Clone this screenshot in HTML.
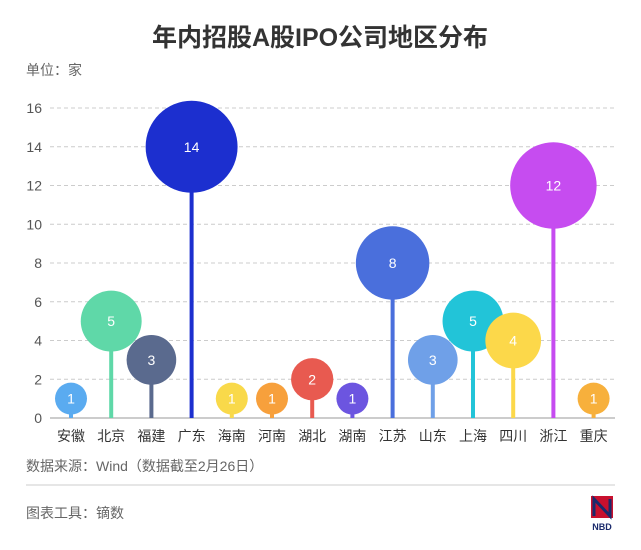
<!DOCTYPE html>
<html><head><meta charset="utf-8"><style>
body{margin:0;background:#fff;width:641px;height:545px;overflow:hidden;font-family:"Liberation Sans","Noto Sans CJK SC",sans-serif;}
</style></head><body>
<svg id="chart" width="641" height="545" xmlns="http://www.w3.org/2000/svg">
<text x="320" y="46" text-anchor="middle" font-size="25" font-weight="bold" fill="#333">年内招股A股IPO公司地区分布</text>
<text x="26" y="75" font-size="14" fill="#666">单位：家</text>
<g id="grid"></g><g id="marks"></g><g id="xlab"></g>
<text x="26" y="471" font-size="14" fill="#666">数据来源：Wind（数据截至2月26日）</text>
<line x1="26" y1="485" x2="615" y2="485" stroke="#ccc" stroke-width="1"/>
<text x="26" y="518" font-size="14" fill="#666">图表工具：镝数</text>
<g>
<rect x="591" y="496" width="22" height="22" fill="#c8102e"/>
<path d="M594 516 L594 499 L610 516 L610 499" stroke="#1a2a6c" stroke-width="3" fill="none"/>
<text x="602" y="530" text-anchor="middle" font-size="9" font-weight="bold" fill="#1a2a6c">NBD</text>
</g>
</svg>
<script>
const categories=["安徽","北京","福建","广东","海南","河南","湖北","湖南","江苏","山东","上海","四川","浙江","重庆"];
const values=[1,5,3,14,1,1,2,1,8,3,5,4,12,1];
const colors=["#5aabf0","#5fd8a8","#5a6a8e","#1c2fcf","#f9d94a","#f7a03c","#e85a50","#6c55e0","#4a6fdc","#6fa0e8","#22c4d8","#fcd84a","#c64cf0","#f7b03c"];
const yTicks=[0,2,4,6,8,10,12,14,16];
const NS="http://www.w3.org/2000/svg";
const y0=418,y1=108,x0=71,step=40.2;
function yS(v){return y0-(v/16)*(y0-y1);}
function xS(i){return x0+i*step;}
function mk(t,a,p){const e=document.createElementNS(NS,t);for(const k in a)e.setAttribute(k,a[k]);p.appendChild(e);return e;}
const grid=document.getElementById('grid'),marks=document.getElementById('marks'),xl=document.getElementById('xlab');
yTicks.forEach(v=>{
 const l=mk('line',{x1:50,x2:615,y1:yS(v),y2:yS(v),stroke:v===0?'#999':'#ccc','stroke-dasharray':v===0?'':'4,3'},grid);
 
 
 const t=mk('text',{x:42,y:yS(v)+5,'text-anchor':'end','font-size':14,fill:'#555'},grid);
 t.textContent=v;
 
 
});
categories.forEach((c,i)=>{
 const x=xS(i),v=values[i],cy=yS(v),r=16*Math.pow(v,0.4);
 const s=mk('line',{x1:x,x2:x,y1:y0,y2:cy,stroke:colors[i],'stroke-width':4},marks);
 
 
 const b=mk('circle',{cx:x,cy:cy,r:r,fill:colors[i]},marks);
 
 
 const t=mk('text',{x:x,y:cy+5,'text-anchor':'middle','font-size':14,fill:'#fff'},marks);
 t.textContent=v;
 
 
 const lb=mk('text',{x:x,y:441,'text-anchor':'middle','font-size':14,fill:'#333'},xl);
 lb.textContent=c;
 
 
});
</script>
</body></html>
